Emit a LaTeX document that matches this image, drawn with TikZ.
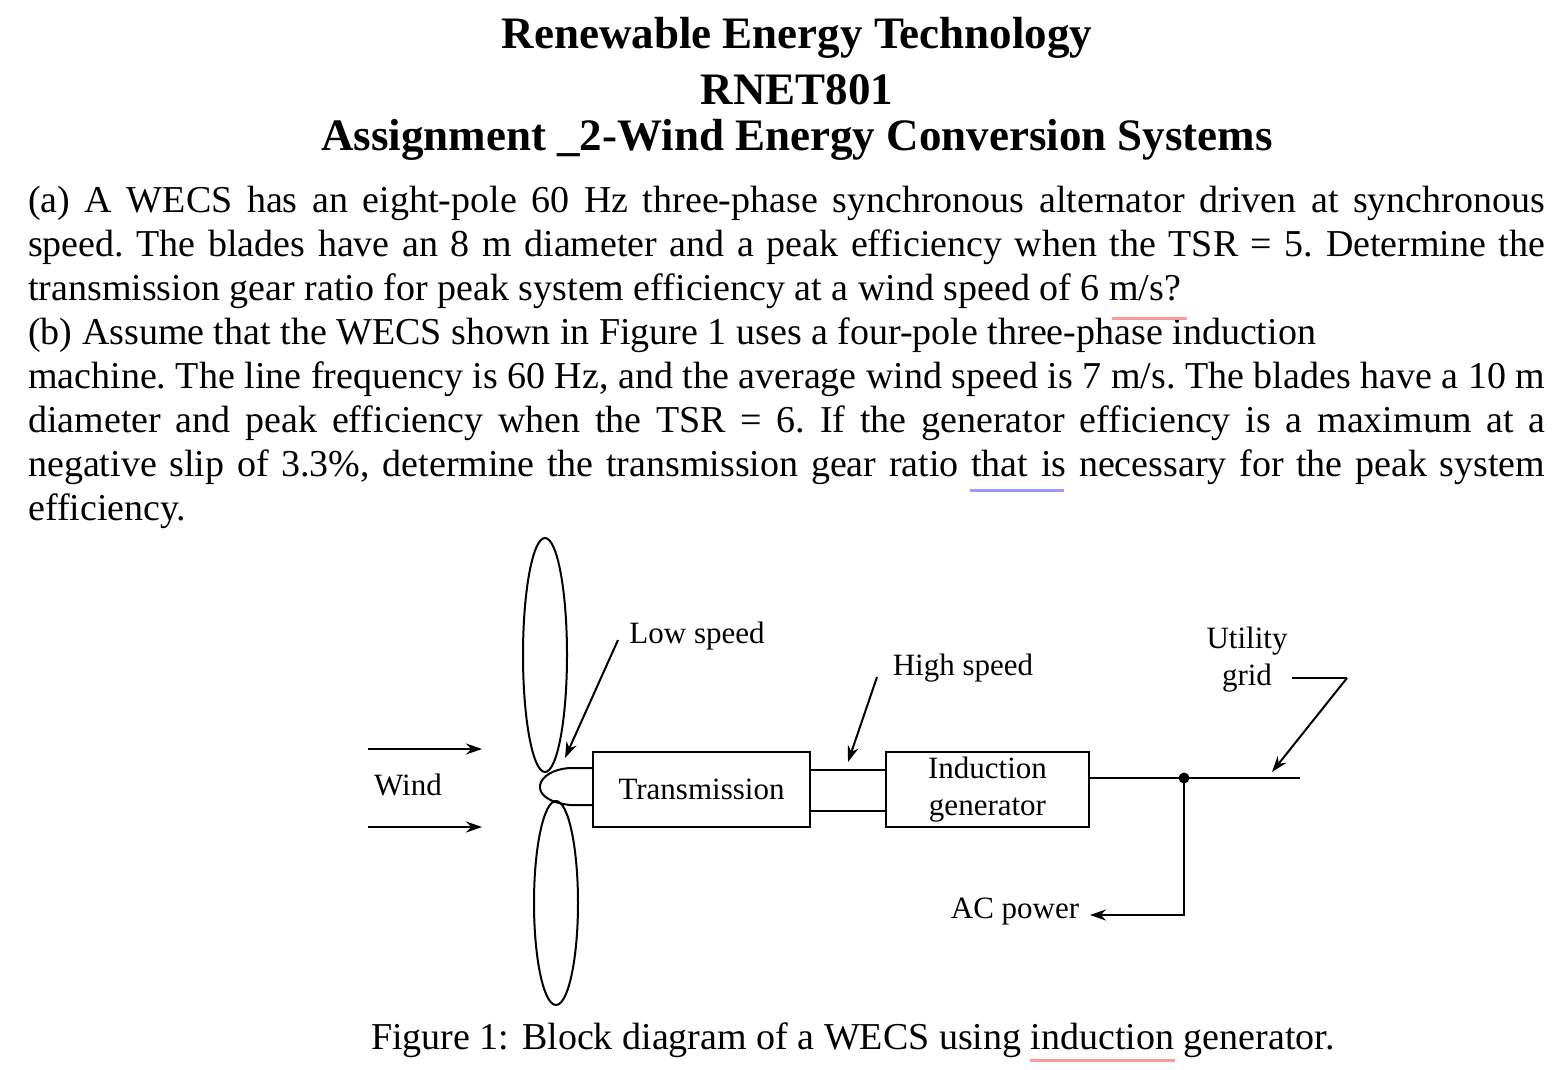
\documentclass[tikz,border=0pt]{standalone}
\usepackage{fontspec}
\setmainfont{Liberation Serif}
\usetikzlibrary{arrows.meta}
\begin{document}
\begin{tikzpicture}[x=1pt,y=-1pt,
  blk/.style={draw,line width=2pt,inner sep=0pt},
  lbl/.style={font=\fontsize{31}{37}\selectfont,align=center,inner sep=0pt},
  ln/.style={line width=2pt},
  arr/.style={line width=2pt,-{Stealth[length=16pt,width=11pt]}},
  ttl/.style={font=\fontsize{45}{50}\bfseries\selectfont,inner sep=0pt},
  body/.style={font=\fontsize{38}{44}\selectfont\frenchspacing,inner sep=0pt,anchor=north west}]
\useasboundingbox[fill=white] (0,0) rectangle (1564,1070);
\node[ttl] (t1) at (797,38) {Renewable Energy Technology};
\node[ttl] (t2) at (797,90) {RNET801};
\node[ttl] (t3) at (797,140) {Assignment \_2-Wind Energy Conversion Systems};
\node[body,text width=1517pt,align=justify] (txt) at (28,186) {(a) A WECS has an eight-pole 60 Hz three-phase synchronous alternator driven at synchronous\linebreak speed. The blades have an 8 m diameter and a peak efficiency when the TSR = 5. Determine the\linebreak transmission gear ratio for peak system efficiency at a wind speed of 6 m/s?\\
(b) Assume that the WECS shown in Figure 1 uses a four-pole three-phase induction\\
machine. The line frequency is 60 Hz, and the average wind speed is 7 m/s. The blades have a 10 m\linebreak diameter and peak efficiency when the TSR = 6. If the generator efficiency is a maximum at a\linebreak negative slip of 3.3\%, determine the transmission gear ratio that is necessary for the peak system\linebreak efficiency.\\};
\draw[line width=3pt,color=red!40] (1112,318) -- (1187,318);
\draw[line width=3pt,color=blue!40] (970,490) -- (1064,490);
\node[font=\fontsize{38}{44}\selectfont,inner sep=0pt] (cap) at (853,1040) {Figure 1: Block diagram of a WECS using induction generator.};
\draw[line width=3pt,color=red!40] (1030,1060) -- (1175,1060);
% diagram
\draw[ln] (545,655) ellipse [x radius=22,y radius=117];
\draw[ln] (556,903) ellipse [x radius=22,y radius=102];
\draw[ln] (593,768) -- (570,768) .. controls (535,770) and (525,800) .. (570,805) -- (593,805);
\node[blk,minimum width=217pt,minimum height=75pt,lbl] (tr) at (701.5,789.5) {Transmission};
\node[blk,minimum width=203pt,minimum height=75pt,lbl] (ig) at (987.5,789.5) {Induction\\generator};
\draw[ln] (tr.east |- 0,770) -- (ig.west |- 0,770);
\draw[ln] (tr.east |- 0,811) -- (ig.west |- 0,811);
\coordinate (gend) at (1300,778);
\coordinate (jn) at (1184,778);
\draw[ln] (ig.east |- jn) -- (gend);
\fill (jn) circle (5.5pt);
\node[lbl] (ac) at (1015,912) {AC power};
\coordinate (acp) at (1090,915);
\draw[arr] (jn) |- (acp);
\node[lbl] (ug) at (1247,660) {Utility\\grid};
\coordinate (ug1) at (1292,678);
\coordinate (ug2) at (1347,678);
\coordinate (ugt) at (1272,772);
\draw[ln] (ug1) -- (ug2);
\draw[arr] (ug2) -- (ugt);
\node[lbl] (hs) at (963,668) {High speed};
\coordinate (hs0) at (877,677); \coordinate (hst) at (848,762);
\draw[arr] (hs0) -- (hst);
\node[lbl] (ls) at (697,636) {Low speed};
\coordinate (ls0) at (618,640); \coordinate (lst) at (565,758);
\draw[arr] (ls0) -- (lst);
\node[lbl] (wind) at (408,785) {Wind};
\coordinate (w1) at (368,749); \coordinate (w1t) at (482,749);
\coordinate (w2) at (368,827); \coordinate (w2t) at (482,827);
\draw[arr] (w1) -- (w1t);
\draw[arr] (w2) -- (w2t);
\end{tikzpicture}
\end{document}
